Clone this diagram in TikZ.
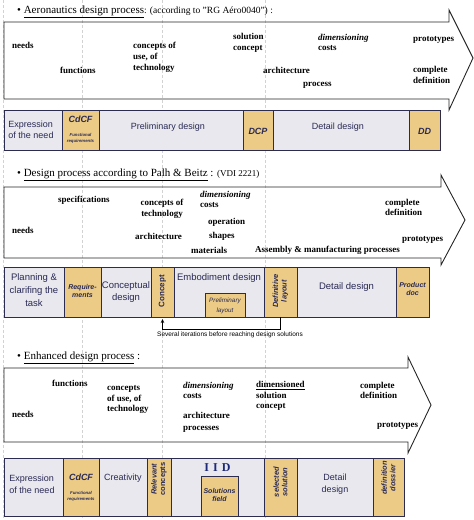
\documentclass[tikz,border=0pt]{standalone}
\usepackage{fontspec}
\setmainfont{Liberation Serif}
\setsansfont{Liberation Sans}
\usetikzlibrary{arrows.meta}
\definecolor{boxgray}{HTML}{E8E8EE}
\definecolor{boxtan}{HTML}{EBCB85}
\definecolor{boxline}{HTML}{2C2C50}
\definecolor{boxtext}{HTML}{2A2A55}
\definecolor{guide}{HTML}{D2D2D2}
\definecolor{iidblue}{HTML}{1E2A78}
\tikzset{
  lbl/.style={anchor=west, inner sep=0pt, align=left, font=\fontsize{9}{10.8}\selectfont\bfseries},
  ttl/.style={anchor=west, inner sep=0pt, font=\fontsize{11}{13}\selectfont},
  bigarrow/.style={draw=black!85, line width=0.9pt},
  gbox/.style={draw=boxline, fill=boxgray, line width=0.9pt, anchor=north west, inner sep=0pt, outer sep=0pt},
  tbox/.style={draw=boxline, fill=boxtan, line width=0.9pt, anchor=north west, inner sep=0pt, outer sep=0pt},
  btxt/.style={inner sep=0pt, align=center, text=boxtext, font=\sffamily\fontsize{9.5}{11.5}\selectfont},
  bitxt/.style={inner sep=0pt, align=center, text=boxtext, font=\sffamily\bfseries\itshape\fontsize{7}{8}\selectfont},
  rtxt/.style={inner sep=0pt, align=center, rotate=90, text=boxtext, font=\sffamily\bfseries\itshape\fontsize{7.5}{8.5}\selectfont},
  guideline/.style={draw=guide, line width=0.5pt, dash pattern=on 2.5pt off 2.5pt}
}
\begin{document}
\begin{tikzpicture}[x=1pt,y=-1pt]
\useasboundingbox (0,0) rectangle (474,520);
% guide lines
\foreach \gx in {3,82,162,265} {\draw[guideline] (\gx,0) -- (\gx,520);}

%================ Section 1
\node[ttl] (t1) at (17,12) {\textbullet\ \underline{Aeronautics design process}{\fontsize{9.5}{11}\selectfont: (according to "RG Aéro0040") :}};
\draw[bigarrow] (4,22) -- (449,22) -- (449,10) -- (473,58) -- (449,110) -- (449,99) -- (4,99) -- cycle;
\node[lbl] (a1) at (12,45) {needs};
\node[lbl] (a2) at (60,70) {functions};
\node[lbl] (a3) at (133,57.5) {concepts of\\use, of\\technology};
\node[lbl] (a4) at (233,42.5) {solution\\concept};
\node[lbl] (a5) at (318,42.5) {\textit{dimensioning}\\costs};
\node[lbl] (a6) at (413,40) {prototypes};
\node[lbl] (a7) at (263,70) {architecture};
\node[lbl] (a8) at (303,85) {process};
\node[lbl] (a9) at (413,75) {complete\\definition};

\node[gbox, minimum width=58pt, minimum height=40pt] (b1a) at (4,110) {};
\node[tbox, minimum width=37pt, minimum height=40pt] (b1b) at (62,110) {};
\node[gbox, minimum width=144pt, minimum height=40pt] (b1c) at (99,110) {};
\node[tbox, minimum width=30pt, minimum height=40pt] (b1d) at (243,110) {};
\node[gbox, minimum width=136pt, minimum height=40pt] (b1e) at (273,110) {};
\node[tbox, minimum width=31pt, minimum height=40pt] (b1f) at (409,110) {};
\node[btxt, align=left, font=\sffamily\fontsize{9}{11}\selectfont] at (31,130) {Expression\\of the need};
\node[bitxt, font=\sffamily\bfseries\itshape\fontsize{9}{10}\selectfont] at (80.5,119) {CdCF};
\node[bitxt, font=\sffamily\bfseries\itshape\fontsize{4.3}{6}\selectfont] at (80.5,138) {Functional\\requirements};
\node[btxt, font=\sffamily\fontsize{9}{11}\selectfont] at (168,127) {Preliminary design};
\node[bitxt, font=\sffamily\bfseries\itshape\fontsize{9}{10}\selectfont] at (258,131) {DCP};
\node[btxt, font=\sffamily\fontsize{9}{11}\selectfont] at (338,127) {Detail design};
\node[bitxt, font=\sffamily\bfseries\itshape\fontsize{9}{10}\selectfont] at (424.5,131) {DD};

%================ Section 2
\node[ttl] (t2) at (17,175) {\textbullet\ \underline{Design process according to Palh \& Beitz} : {\fontsize{9}{10}\selectfont(VDI 2221)}};
\draw[bigarrow] (4,187) -- (441,187) -- (441,175) -- (465,220) -- (441,265) -- (441,258) -- (4,258) -- cycle;
\node[lbl] (p1) at (58,200) {specifications};
\node[lbl, anchor=center, align=center] (p2) at (162,209) {concepts of\\technology};
\node[lbl] (p3) at (200,199.5) {\textit{dimensioning}\\costs};
\node[lbl] (p4) at (208,222) {operation};
\node[lbl] (p5) at (12,230) {needs};
\node[lbl] (p6) at (135,236) {architecture};
\node[lbl] (p7) at (209,236) {shapes};
\node[lbl] (p8) at (191,250) {materials};
\node[lbl] (p9) at (255,250) {Assembly \& manufacturing processes};
\node[lbl] (p10) at (385,207.5) {complete\\definition};
\node[lbl] (p11) at (402,240) {prototypes};

\node[gbox, minimum width=60pt, minimum height=50pt] (b2a) at (4,267) {};
\node[tbox, minimum width=37pt, minimum height=50pt] (b2b) at (64,267) {};
\node[gbox, minimum width=50pt, minimum height=50pt] (b2c) at (101,267) {};
\node[tbox, minimum width=23pt, minimum height=50pt] (b2d) at (151,267) {};
\node[gbox, minimum width=90pt, minimum height=50pt] (b2e) at (174,267) {};
\node[tbox, minimum width=40pt, minimum height=24pt] (b2i) at (205,293) {};
\node[tbox, minimum width=33pt, minimum height=50pt] (b2f) at (264,267) {};
\node[gbox, minimum width=99pt, minimum height=50pt] (b2g) at (297,267) {};
\node[tbox, minimum width=33pt, minimum height=50pt] (b2h) at (396,267) {};
\node[btxt, font=\sffamily\fontsize{9.5}{13}\selectfont] at (34,290) {Planning \&\\clarifing the\\task};
\node[bitxt] at (82.5,291) {Require-\\ments};
\node[btxt] at (126,292) {Conceptual\\design};
\node[rtxt, font=\sffamily\bfseries\fontsize{8}{9}\selectfont] at (162.5,291) {Concept};
\node[btxt] at (219,278) {Embodiment design};
\node[btxt, font=\sffamily\itshape\fontsize{6.3}{10.5}\selectfont] at (225,306) {Preliminary\\layout};
\node[rtxt] at (280.5,291) {Definitive\\layout};
\node[btxt] at (346.5,287) {Detail design};
\node[bitxt] at (412.5,288.5) {Product\\doc};
\draw[line width=0.6pt, -{Stealth[length=4pt,width=3.5pt]}] (b2f.south) -- ++(0,12) -| ([yshift=-2pt]b2d.south);
\node[inner sep=0pt, font=\sffamily\fontsize{6.5}{7}\selectfont] (it) at (230,335) {Several iterations before reaching design solutions};

%================ Section 3
\node[ttl] (t3) at (17,358) {\textbullet\ \underline{Enhanced design process} :};
\draw[bigarrow] (4,368) -- (408,368) -- (408,357) -- (431,405) -- (408,453) -- (408,442) -- (4,442) -- cycle;
\node[lbl] (e1) at (52,383) {functions};
\node[lbl] (e2) at (107,399.5) {concepts\\of use, of\\technology};
\node[lbl] (e3) at (12,414) {needs};
\node[lbl] (e4) at (183,390.5) {\textit{dimensioning}\\costs};
\node[lbl] (e5) at (183,415) {architecture};
\node[lbl] (e6) at (183,429) {processes};
\node[lbl] (e7) at (256,396) {\underline{dimensioned}\\solution\\concept};
\node[lbl] (e8) at (360,390.5) {complete\\definition};
\node[lbl] (e9) at (377,426) {prototypes};

\node[gbox, minimum width=59pt, minimum height=58pt] (b3a) at (4,458) {};
\node[tbox, minimum width=36pt, minimum height=58pt] (b3b) at (63,458) {};
\node[gbox, minimum width=48pt, minimum height=58pt] (b3c) at (99,458) {};
\node[tbox, minimum width=24pt, minimum height=58pt] (b3d) at (147,458) {};
\node[gbox, minimum width=93pt, minimum height=58pt] (b3e) at (171,458) {};
\node[tbox, minimum width=37pt, minimum height=40pt] (b3i) at (201,476) {};
\node[tbox, minimum width=33pt, minimum height=58pt] (b3f) at (264,458) {};
\node[gbox, minimum width=76pt, minimum height=58pt] (b3g) at (297,458) {};
\node[tbox, minimum width=31pt, minimum height=58pt] (b3h) at (373,458) {};
\node[btxt, align=left, font=\sffamily\fontsize{9}{12}\selectfont] at (32,484) {Expression\\of the need};
\node[bitxt, font=\sffamily\bfseries\itshape\fontsize{9}{10}\selectfont] at (81,477) {CdCF};
\node[bitxt, font=\sffamily\bfseries\itshape\fontsize{4.3}{6}\selectfont] at (81,496) {Functional\\requirements};
\node[btxt, font=\sffamily\fontsize{9}{11}\selectfont] at (123,478) {Creativity};
\node[rtxt, font=\sffamily\bfseries\fontsize{7.5}{8.5}\selectfont] at (159,479) {\textit{Relevant}\\concepts};
\node[inner sep=0pt, text=iidblue, font=\bfseries\fontsize{12}{14}\selectfont] at (217.5,468) {I\,\,I\,\,D};
\node[bitxt] at (219.5,495) {Solutions\\field};
\node[rtxt] at (280.5,482) {selected\\solution};
\node[btxt, font=\sffamily\fontsize{9}{11.5}\selectfont] at (335,484) {Detail\\design};
\node[rtxt] at (388.5,478) {definition\\dossier};
\end{tikzpicture}
\end{document}
